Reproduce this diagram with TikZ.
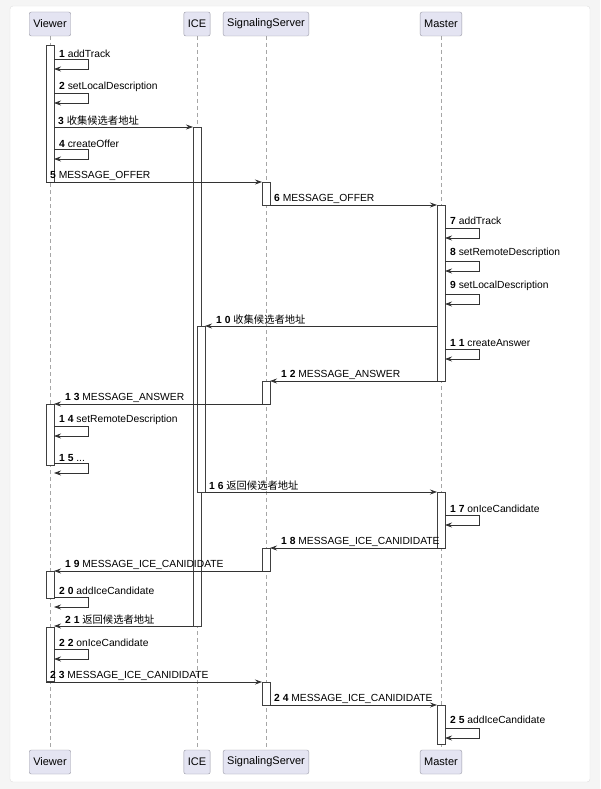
\documentclass[tikz,border=0pt]{standalone}
\usepackage{fontspec}
\setmainfont{Liberation Sans}
\newfontfamily\cjk{Noto Sans CJK SC}
\usetikzlibrary{arrows.meta}
\definecolor{hdr}{HTML}{E4E4F2}
\definecolor{hdrb}{HTML}{9A9AA6}
\begin{document}
\begin{tikzpicture}[x=1pt,y=-1pt,
  part/.style={draw=hdrb,fill=hdr,rounded corners=2pt,minimum height=24pt,inner xsep=4pt,font=\fontsize{11}{13}\selectfont},
  life/.style={draw=gray!70,dashed,dash pattern=on 4pt off 3pt},
  act/.style={draw=black!75,fill=white,line width=0.7pt},
  msg/.style={draw=black!80,line width=0.7pt,-{Stealth[length=7pt,width=5pt,inset=2.5pt]}},
  lbl/.style={anchor=south west,inner sep=1pt,font=\fontsize{10.3}{12}\selectfont}]
\useasboundingbox (0,0) rectangle (600,789);
\fill[gray!8] (0,0) rectangle (600,789);
\draw[gray!25,fill=white,rounded corners=3pt] (10,6) rectangle (590,782);
% lifelines
\foreach \x in {50,197,266,441} \draw[life] (\x,36) -- (\x,750);
% participants
\foreach \n/\x/\t in {v/50/Viewer,i/197/ICE,s/266/SignalingServer,m/441/Master}{
  \node[part] (\n top) at (\x,24) {\t};
  \node[part] (\n bot) at (\x,762) {\t};}
% activations
\foreach \a/\b/\c/\d in {46/45/54/182, 46/404/54/465, 46/571/54/598, 46/627/54/681,
  193/127/201/626, 197/326/205/492,
  262/182/270/205, 262/381/270/404, 262/548/270/571, 262/682/270/705,
  437/205/445/381, 437/492/445/548, 437/705/445/744}
  \draw[act] (\a,\b) rectangle (\c,\d);
\newcommand\selfm[4]{% x, y label, y1, text
  \node[lbl] (s#2) at (#1+4,#2+6) {#4};
  \draw[msg] (#1,#3) -- (#1+34,#3) -- (#1+34,#3+10) -- (#1,#3+10);}
\newcommand\msgr[4]{% x1,x2,y,text  rightward
  \node[lbl] (r#3) at (#1+3,#3) {#4};
  \draw[msg] (#1,#3) -- (#2,#3);}
\newcommand\msgl[4]{% x1 (src), x2 (dst), y, text leftward
  \node[lbl] (l#3) at (#2+10,#3) {#4};
  \draw[msg] (#1,#3) -- (#2,#3);}
\selfm{54}{53}{59}{\textbf{1} addTrack}
\selfm{54}{87}{93}{\textbf{2} setLocalDescription}
\msgr{54}{193}{127}{\textbf{3} {\cjk 收集候选者地址}}
\selfm{54}{143}{149}{\textbf{4} createOffer}
\msgr{46}{262}{182}{\textbf{5} MESSAGE\_OFFER}
\msgr{270}{437}{205}{\textbf{6} MESSAGE\_OFFER}
\selfm{445}{220}{228}{\textbf{7} addTrack}
\selfm{445}{253}{261}{\textbf{8} setRemoteDescription}
\selfm{445}{286}{294}{\textbf{9} setLocalDescription}
\msgl{437}{205}{326}{\textbf{1 0} {\cjk 收集候选者地址}}
\selfm{445}{342}{349}{\textbf{1 1} createAnswer}
\msgl{445}{270}{381}{\textbf{1 2} MESSAGE\_ANSWER}
\msgl{270}{54}{404}{\textbf{1 3} MESSAGE\_ANSWER}
\selfm{54}{420}{426}{\textbf{1 4} setRemoteDescription}
\selfm{54}{457}{463}{\textbf{1 5} ...}
\msgr{205}{437}{492}{\textbf{1 6} {\cjk 返回候选者地址}}
\selfm{445}{508}{515}{\textbf{1 7} onIceCandidate}
\msgl{445}{270}{548}{\textbf{1 8} MESSAGE\_ICE\_CANIDIDATE}
\msgl{270}{54}{571}{\textbf{1 9} MESSAGE\_ICE\_CANIDIDATE}
\selfm{54}{590}{597}{\textbf{2 0} addIceCandidate}
\msgl{193}{54}{626}{\textbf{2 1} {\cjk 返回候选者地址}}
\selfm{54}{642}{649}{\textbf{2 2} onIceCandidate}
\msgr{46}{262}{682}{\textbf{2 3} MESSAGE\_ICE\_CANIDIDATE}
\msgr{270}{437}{705}{\textbf{2 4} MESSAGE\_ICE\_CANIDIDATE}
\selfm{445}{719}{728}{\textbf{2 5} addIceCandidate}
\end{tikzpicture}
\end{document}
